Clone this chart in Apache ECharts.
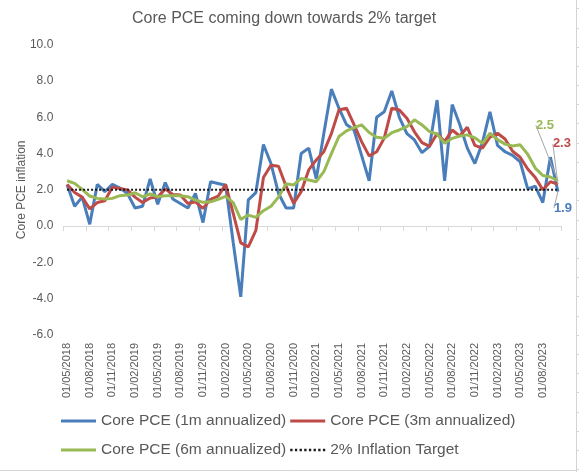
<!DOCTYPE html>
<html>
<head>
<meta charset="utf-8">
<script src="https://cdn.jsdelivr.net/npm/echarts@6/dist/echarts.min.js"></script>
<style>
  html, body { margin: 0; padding: 0; background: #ffffff; }
  #chart { width: 579px; height: 472px; }
</style>
</head>
<body>
<div id="chart"></div>
<script>
const categories = [
  '01/05/2018','01/06/2018','01/07/2018','01/08/2018','01/09/2018','01/10/2018','01/11/2018','01/12/2018',
  '01/01/2019','01/02/2019','01/03/2019','01/04/2019','01/05/2019','01/06/2019','01/07/2019','01/08/2019','01/09/2019','01/10/2019','01/11/2019','01/12/2019',
  '01/01/2020','01/02/2020','01/03/2020','01/04/2020','01/05/2020','01/06/2020','01/07/2020','01/08/2020','01/09/2020','01/10/2020','01/11/2020','01/12/2020',
  '01/01/2021','01/02/2021','01/03/2021','01/04/2021','01/05/2021','01/06/2021','01/07/2021','01/08/2021','01/09/2021','01/10/2021','01/11/2021','01/12/2021',
  '01/01/2022','01/02/2022','01/03/2022','01/04/2022','01/05/2022','01/06/2022','01/07/2022','01/08/2022','01/09/2022','01/10/2022','01/11/2022','01/12/2022',
  '01/01/2023','01/02/2023','01/03/2023','01/04/2023','01/05/2023','01/06/2023','01/07/2023','01/08/2023','01/09/2023','01/10/2023'
];

const pce1m = [
  2.3, 1.1, 1.6, 0.1, 2.3, 1.9, 2.3, 2.1,
  1.8, 1.0, 1.1, 2.6, 1.2, 2.4, 1.5, 1.25, 1.0, 1.8, 0.2, 2.45,
  2.35, 2.25, -0.9, -3.9, 1.45, 1.85, 4.5, 3.45, 1.8, 1.0, 1.0, 4.0,
  4.3, 2.6, 5.1, 7.55, 6.5, 5.6, 5.3, 3.9, 2.5, 6.0, 6.3, 7.45,
  6.0, 5.1, 4.75, 4.05, 4.4, 6.95, 2.5, 6.7, 5.6, 4.3, 3.45, 4.6,
  6.3, 4.45, 4.1, 3.9, 3.55, 2.05, 2.2, 1.3, 3.8, 1.9
];

const pce3m = [
  2.3, 1.85, 1.6, 0.95, 1.3, 1.4, 2.15, 2.08,
  2.0, 1.6, 1.3, 1.55, 1.6, 2.05, 1.75, 1.72, 1.25, 1.34, 0.98, 1.48,
  1.65, 2.3, 0.7, -0.92, -1.14, -0.24, 2.68, 3.35, 3.3, 2.2, 1.25, 1.9,
  3.1, 3.65, 4.1, 5.1, 6.4, 6.5, 5.6, 4.66, 3.87, 4.1, 4.85, 6.5,
  6.4, 5.95, 5.2, 4.6, 4.4, 5.1, 4.66, 5.3, 4.97, 5.45, 4.45, 4.3,
  4.9, 5.12, 4.8, 4.13, 3.8, 3.15, 2.68, 2.0, 2.45, 2.3
];

const pce6m = [
  2.5, 2.36, 2.03, 1.66, 1.53, 1.5, 1.53, 1.68,
  1.71, 1.84, 1.62, 1.77, 1.62, 1.68, 1.67, 1.67, 1.62, 1.44, 1.31, 1.34,
  1.48, 1.64, 1.3, 0.37, 0.61, 0.48, 0.85, 1.1, 1.6, 2.34, 2.27, 2.63,
  2.54, 2.45, 3.0, 4.0, 4.94, 5.25, 5.43, 5.58, 5.16, 4.9, 4.84, 5.15,
  5.3, 5.49, 5.86, 5.58, 5.21, 5.08, 4.57, 4.84, 4.97, 5.03, 4.87, 4.56,
  5.12, 4.77, 4.52, 4.42, 4.48, 3.96, 3.2, 2.79, 2.71, 2.5
];

const targetValue = 2.0;
const targetLine = categories.map(() => targetValue);

const seriesNames = ['Core PCE (1m annualized)', 'Core PCE (3m annualized)', 'Core PCE (6m annualized)', '2% Inflation Target'];
const yTicks = { min: -6, max: 10, interval: 2 };

const FONT = '"Liberation Sans", Arial, sans-serif';
const TXT = '#595959';
const COLORS = ['#4A7EBB', '#BE4B48', '#98B954', '#1a1a1a'];
const last = categories.length - 1;

function withEndLabel(arr, color, position) {
  return arr.map((v, i) => i === last ? {
    value: v,
    label: {
      show: true, position: position, color: color, fontWeight: 'bold', fontSize: 13, fontFamily: FONT,
      formatter: (p) => Number(p.value).toFixed(1)
    }
  } : v);
}

function endLayout(dx, dy) {
  return function (params) {
    if (params.dataIndex === last) return { dx: dx, dy: dy };
    return {};
  };
}

const labelLineStyle = { show: true, lineStyle: { color: '#a6a6a6', width: 1 } };

function lineSeries(idx, data, labelPos, dx, dy) {
  return {
    name: seriesNames[idx], type: 'line',
    symbol: 'circle', symbolSize: 0, showSymbol: true, showAllSymbol: true,
    color: COLORS[idx],
    itemStyle: { color: COLORS[idx] },
    lineStyle: { width: 3, color: COLORS[idx] },
    data: withEndLabel(data, COLORS[idx], labelPos),
    labelLine: labelLineStyle,
    labelLayout: endLayout(dx, dy)
  };
}

const dotsIcon = 'path://M0,0h2v2h-2z M4,0h2v2h-2z M8,0h2v2h-2z M12,0h2v2h-2z M16,0h2v2h-2z M20,0h2v2h-2z M24,0h2v2h-2z M28,0h2v2h-2z';

const legendText = { fontSize: 15.5, color: TXT, fontFamily: FONT };

const rowTicks = [];
for (let k = 0; k < 25; k++) {
  const y = Math.round(8.3 + 19.2 * k) + 0.5;
  rowTicks.push({ type: 'line', silent: true, shape: { x1: 577, y1: y, x2: 579, y2: y }, style: { stroke: '#d4d4d4', lineWidth: 1 } });
}

const chart = echarts.init(document.getElementById('chart'), null, { renderer: 'canvas' });

const option = {
  animation: false,
  backgroundColor: '#ffffff',
  title: {
    text: 'Core PCE coming down towards 2% target',
    left: 127, top: 6,
    textStyle: { fontSize: 16, fontWeight: 'normal', color: TXT, fontFamily: FONT }
  },
  grid: { left: 63.3, right: 17.3, top: 44.7, bottom: 137 },
  legend: [
    {
      data: [
        { name: seriesNames[0], icon: 'rect' },
        { name: seriesNames[1], icon: 'rect' }
      ],
      left: 61, top: 413, padding: 0, itemWidth: 35, itemHeight: 3, itemGap: 4,
      textStyle: legendText
    },
    {
      data: [
        { name: seriesNames[2], icon: 'rect' },
        { name: seriesNames[3], icon: dotsIcon, itemStyle: { color: '#1a1a1a' } }
      ],
      left: 61, top: 442, padding: 0, itemWidth: 35, itemHeight: 3, itemGap: 4,
      textStyle: legendText
    }
  ],
  xAxis: [
    {
      type: 'category', data: categories, boundaryGap: true, position: 'bottom',
      axisLine: { show: false, onZero: false },
      axisTick: { show: false },
      axisLabel: { interval: 2, rotate: 90, margin: 8, fontSize: 11, color: TXT, fontFamily: FONT }
    },
    {
      type: 'category', data: categories, boundaryGap: true, position: 'bottom',
      axisLine: { show: true, onZero: true, lineStyle: { color: '#d9d9d9', width: 1 } },
      axisTick: { show: true, interval: 2, length: 5, lineStyle: { color: '#d9d9d9' } },
      axisLabel: { show: false }
    }
  ],
  yAxis: {
    type: 'value', min: yTicks.min, max: yTicks.max, interval: yTicks.interval,
    name: 'Core PCE inflation', nameLocation: 'middle', nameGap: 36, nameRotate: 90,
    nameMoveOverlap: false,
    nameTextStyle: { fontSize: 12, color: TXT, fontFamily: FONT },
    axisLine: { show: false }, axisTick: { show: false },
    splitLine: { show: false },
    axisLabel: { margin: 10, fontSize: 12, color: TXT, fontFamily: FONT, formatter: (v) => v.toFixed(1) }
  },
  series: [
    lineSeries(0, pce1m, 'bottom', 5, 5),
    lineSeries(1, pce3m, 'top', 4, -29),
    lineSeries(2, pce6m, 'top', -13, -44),
    {
      name: seriesNames[3], type: 'line', symbol: 'none', color: COLORS[3],
      itemStyle: { color: COLORS[3] },
      lineStyle: { width: 2, color: COLORS[3], type: [2, 2] },
      data: targetLine
    }
  ],
  graphic: [
    { type: 'line', silent: true, shape: { x1: 576.5, y1: 0, x2: 576.5, y2: 472 }, style: { stroke: '#d4d4d4', lineWidth: 1 } },
    { type: 'line', silent: true, shape: { x1: 0, y1: 470.5, x2: 577, y2: 470.5 }, style: { stroke: '#d4d4d4', lineWidth: 1 } }
  ].concat(rowTicks)
};

chart.setOption(option);
</script>
</body>
</html>
